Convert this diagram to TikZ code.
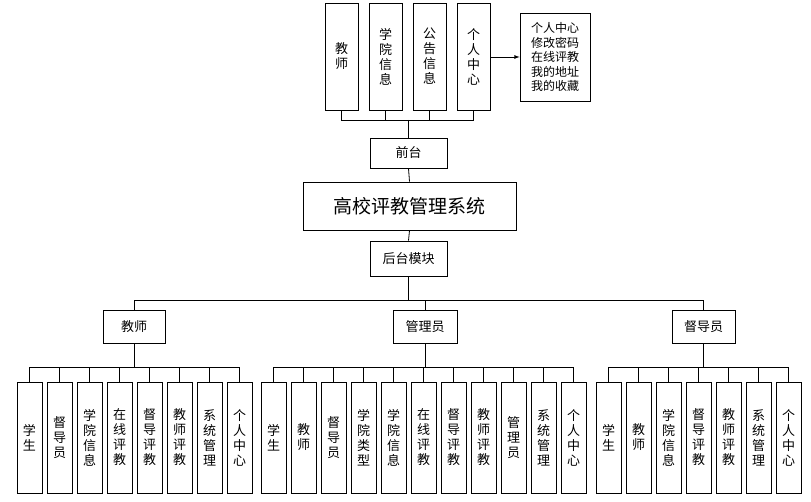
\documentclass[tikz,border=0pt]{standalone}
\usepackage{fontspec}
\setmainfont{Noto Sans CJK SC}
\begin{document}
\begin{tikzpicture}[x=1pt,y=-1pt,
  box/.style={draw,line width=0.8pt,inner sep=0pt,font=\fontsize{13}{15}\selectfont,align=center},
  conn/.style={line width=0.8pt}]
\useasboundingbox (0,0) rectangle (811,502);
% top boxes
\foreach \x/\t/\n in {325/教\\师/t1,369/学\\院\\信\\息/t2,413/公\\告\\信\\息/t3,457/个\\人\\中\\心/t4}{
  \node[box,minimum width=33pt,minimum height=107pt] (\n) at (\x+16.5,56.5) {\t};
}
\node[box,minimum width=70pt,minimum height=88pt,font=\fontsize{12}{14.5}\selectfont] (info) at (555,57) {个人中心\\修改密码\\在线评教\\我的地址\\我的收藏};
\draw[conn,-latex] (t4.east|-0,57) -- (info.west|-0,57);
\node[box,minimum width=77pt,minimum height=30pt] (front) at (408.5,153) {前台};
\node[box,minimum width=213pt,minimum height=48pt,font=\fontsize{19}{22}\selectfont] (main) at (409.5,206) {高校评教管理系统};
\node[box,minimum width=77pt,minimum height=35pt] (back) at (408.5,258.5) {后台模块};
\coordinate (tb) at (408.5,120);
\draw[conn] (t1.south) |- (tb);
\draw[conn] (t4.south) |- (tb);
\draw[conn] (t2.south) -- (t2.south|-tb);
\draw[conn] (t3.south) -- (t3.south|-tb);
\draw[conn] (tb) -- (front.north);
\draw[conn] (front.south) -- (main.north);
\draw[conn] (main.south) -- (back.north);
% roles
\node[box,minimum width=62pt,minimum height=33pt] (r1) at (134,326.5) {教师};
\node[box,minimum width=64pt,minimum height=33pt] (r2) at (425,326.5) {管理员};
\node[box,minimum width=63pt,minimum height=33pt] (r3) at (703.5,326.5) {督导员};
\coordinate (bb) at (408.5,300);
\draw[conn] (back.south) -- (bb);
\draw[conn] (r1.north) |- (bb);
\draw[conn] (r3.north) |- (bb);
\draw[conn] (r2.north) -- (r2.north|-bb);
% leaves
\tikzset{leaf/.style={box,minimum width=25pt,minimum height=111pt}}
\foreach \i/\t in {0/学\\生,1/督\\导\\员,2/学\\院\\信\\息,3/在\\线\\评\\教,4/督\\导\\评\\教,5/教\\师\\评\\教,6/系\\统\\管\\理,7/个\\人\\中\\心}{
  \node[leaf] (a\i) at (29.5+30*\i,437.5) {\t};
  \draw[conn] (a\i.north) -- ++(0,-15);
}
\draw[conn] (r1.south) -- (r1.south|-0,367);
\draw[conn] (a0.north|-0,367) -- (a7.north|-0,367);
\foreach \i/\t in {0/学\\生,1/教\\师,2/督\\导\\员,3/学\\院\\类\\型,4/学\\院\\信\\息,5/在\\线\\评\\教,6/督\\导\\评\\教,7/教\\师\\评\\教,8/管\\理\\员,9/系\\统\\管\\理,10/个\\人\\中\\心}{
  \node[leaf] (b\i) at (273.5+30*\i,437.5) {\t};
  \draw[conn] (b\i.north) -- ++(0,-15);
}
\draw[conn] (r2.south) -- (r2.south|-0,367);
\draw[conn] (b0.north|-0,367) -- (b10.north|-0,367);
\foreach \i/\t in {0/学\\生,1/教\\师,2/学\\院\\信\\息,3/督\\导\\评\\教,4/教\\师\\评\\教,5/系\\统\\管\\理,6/个\\人\\中\\心}{
  \node[leaf] (c\i) at (608.5+30*\i,437.5) {\t};
  \draw[conn] (c\i.north) -- ++(0,-15);
}
\draw[conn] (r3.south) -- (r3.south|-0,367);
\draw[conn] (c0.north|-0,367) -- (c6.north|-0,367);
\end{tikzpicture}
\end{document}
